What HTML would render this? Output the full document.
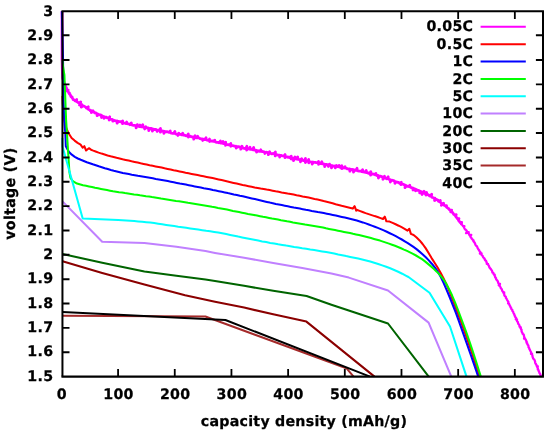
<!DOCTYPE html>
<html lang="en"><head><meta charset="utf-8"><title>Discharge curves</title>
<style>html,body{margin:0;padding:0;background:#fff;overflow:hidden;}svg{display:block;}text{font-family:"DejaVu Sans", "Liberation Sans", sans-serif;font-weight:bold;font-size:14.2px;letter-spacing:0.3px;fill:#000;stroke:#000;stroke-width:0.25px;text-rendering:geometricPrecision;}</style>
</head><body>
<svg width="550" height="433" viewBox="0 0 550 433">
<rect width="550" height="433" fill="#fff"/>
<defs><clipPath id="c"><rect x="60.199999999999996" y="10.8" width="483.6" height="366.5"/></clipPath></defs>
<g fill="none" stroke-linejoin="round" stroke-linecap="butt" clip-path="url(#c)">
<polyline stroke="#ff00ff" stroke-width="2.3" points="460.0,222.4 460.4,222.5 461.6,222.5 461.2,223.6 461.7,224.5 462.4,225.2 463.1,226.0 463.2,226.3 464.4,226.2 464.0,227.4 464.4,228.3 464.9,229.2 465.8,229.8 466.6,230.5 466.7,231.6 467.1,231.7 466.1,233.2 468.8,232.1 468.3,233.3 469.0,234.0 469.4,235.0 469.5,235.2 471.3,234.9 470.3,236.4 470.7,237.3 471.5,238.1 471.9,238.9 472.8,239.6 472.7,240.0 473.6,240.3 473.4,241.2 474.1,242.0 474.7,242.8 475.1,243.7 475.4,244.7 475.9,245.5 476.8,246.2 477.3,247.0 477.6,248.0 478.1,248.9 478.7,249.7 479.3,250.5 479.6,251.5 480.5,252.1 480.4,252.5 479.9,253.7 481.6,253.3 481.4,254.2 481.8,255.2 482.6,255.8 483.0,256.8 483.5,257.6 484.4,258.3 484.7,259.3 485.1,260.2 486.0,260.8 486.4,261.7 486.6,262.8 486.9,262.9 486.8,263.8 488.0,263.8 488.0,264.6 488.6,265.4 489.1,266.3 489.4,267.3 489.9,268.1 490.7,268.9 491.2,269.7 491.9,270.5 492.2,271.4 492.4,272.5 493.4,273.1 493.6,274.1 493.8,274.3 494.7,274.6 494.5,275.6 495.1,276.3 495.2,277.4 496.0,278.1 496.1,279.2 496.8,280.0 497.5,280.8 497.9,281.7 498.2,282.6 498.5,283.6 498.8,283.8 500.0,284.0 498.8,285.3 499.7,285.6 500.1,286.5 500.6,287.3 500.9,288.3 501.7,289.1 502.0,290.0 502.3,291.0 503.0,291.8 503.0,292.1 504.2,292.3 503.6,293.3 504.3,294.1 504.3,295.3 504.9,296.1 505.8,296.7 505.8,297.8 506.5,298.6 506.9,299.5 507.4,300.4 507.9,301.2 508.5,302.1 508.3,302.5 508.1,303.4 509.0,303.8 509.4,304.7 509.7,305.6 510.4,306.4 510.6,307.4 511.3,308.2 511.4,309.2 512.3,309.9 512.4,311.0 513.1,311.7 513.4,312.7 513.8,313.6 514.4,314.5 514.5,315.5 515.1,316.3 515.4,317.3 516.1,318.1 516.1,318.4 515.8,319.3 517.0,319.4 516.9,320.2 517.1,321.3 517.9,322.0 518.0,323.0 518.3,324.0 519.1,324.7 519.5,325.6 519.5,326.7 519.9,326.9 520.8,327.3 520.5,328.2 521.0,329.0 521.6,329.9 521.5,331.0 521.8,331.9 522.4,332.8 522.6,333.8 523.6,334.4 523.9,335.4 524.1,336.4 524.2,337.4 524.6,337.6 524.1,338.6 525.2,338.9 525.8,339.7 526.0,340.7 526.7,341.5 526.5,342.7 527.3,343.4 527.4,344.4 528.2,345.2 528.5,346.1 528.5,347.2 529.2,348.1 529.4,349.1 529.9,349.9 530.3,350.8 530.8,351.7 531.3,352.6 531.2,352.9 531.0,353.8 532.1,354.0 532.0,354.8 532.5,355.7 532.5,356.8 532.9,357.6 533.2,358.6 534.1,359.3 534.6,360.2 535.0,361.1 535.1,362.2 535.3,363.1 535.9,364.0 536.4,364.9 536.7,365.8 536.7,366.1 537.8,366.4 537.3,367.4 537.9,368.3 537.8,369.4 538.5,370.1 538.7,371.1 539.2,372.0 539.4,373.0 540.1,373.8 540.4,374.8 540.8,375.7 541.0,376.6"/>
<polyline stroke="#ff00ff" stroke-width="2.8" points="62.0,11.2 62.0,60.0 62.6,78.0 64.9,85.0 65.5,85.8 65.6,86.9 66.4,87.6 66.5,88.6 67.1,89.5 67.2,89.8 68.2,90.0 67.3,91.2 68.1,91.5 68.6,92.4 68.7,92.7 69.5,93.1 69.4,93.9 70.2,94.6 70.6,95.5 70.9,96.5 71.1,96.7 72.1,96.9 72.0,97.8 72.8,98.5 73.1,99.6 74.1,99.9 75.0,100.4 75.1,100.8 76.7,99.5 76.3,101.5 77.3,101.8 78.0,102.5 79.0,102.8 79.1,103.1 80.7,101.9 79.5,105.0 80.8,104.2 81.8,104.5 81.9,104.9 81.3,107.1 83.1,105.6 84.0,106.1 84.9,106.6 85.7,107.1 86.3,108.1 86.7,108.1 88.3,106.8 87.8,108.9 88.6,109.5 89.6,109.8 90.2,110.7 91.4,110.7 91.5,111.0 91.4,112.7 93.1,110.7 93.3,111.9 94.2,112.3 95.0,113.1 96.1,113.0 96.9,113.7 97.2,113.8 97.1,115.6 98.5,114.3 99.3,114.9 100.4,114.8 101.3,115.2 101.5,115.6 101.5,117.6 102.8,116.1 103.7,116.6 104.0,116.6 104.1,118.4 105.3,117.1 106.4,117.2 107.2,117.8 108.2,118.0 108.4,118.3 109.7,116.8 109.2,120.0 110.3,119.0 111.2,119.4 112.2,119.5 112.5,119.7 112.8,121.2 113.8,120.1 114.7,120.6 115.7,120.8 116.6,121.1 117.0,121.0 117.1,123.2 118.3,121.3 119.3,121.5 120.3,121.7 121.3,121.9 121.5,122.2 122.6,120.9 122.5,123.6 123.5,122.8 124.4,123.1 125.4,123.1 125.7,123.4 126.7,122.1 127.0,123.7 128.0,123.8 129.0,124.0 129.9,124.7 130.2,124.5 131.3,122.9 131.6,124.8 132.5,125.2 133.5,125.3 134.5,125.4 135.5,125.6 135.8,125.8 136.1,127.9 137.3,124.6 137.7,126.2 138.8,126.2 139.0,126.4 140.0,125.1 140.4,126.7 141.4,126.9 141.7,126.9 142.8,124.7 143.1,127.2 144.1,127.2 144.3,127.4 144.7,129.0 145.8,126.7 146.3,127.8 147.3,127.9 148.3,127.9 148.5,128.2 148.8,130.7 149.9,128.5 151.0,128.4 151.9,128.6 152.2,129.0 152.4,131.2 153.5,129.2 154.5,129.5 155.6,129.4 156.4,130.1 156.8,129.9 157.2,131.5 158.2,130.2 159.1,130.4 159.4,130.4 160.5,128.5 160.4,132.1 161.4,130.8 162.4,130.8 163.3,131.4 163.6,131.3 163.9,133.4 165.0,131.5 166.0,131.9 167.0,131.7 168.0,132.0 169.0,132.3 169.2,132.4 170.2,131.0 170.6,132.7 171.5,133.2 172.5,133.3 173.6,133.2 173.8,133.3 174.9,131.4 175.2,133.6 176.1,134.1 177.1,134.3 177.5,134.0 177.9,135.5 178.9,133.3 179.5,134.4 180.5,134.4 181.4,134.7 181.7,134.8 182.7,133.1 183.1,135.0 184.1,134.9 185.0,135.4 186.0,135.8 187.0,135.9 187.3,135.7 188.3,134.0 188.4,137.2 189.3,136.1 190.3,136.2 191.2,136.7 192.2,137.0 193.2,136.8 193.5,136.9 193.8,139.2 195.1,135.8 195.5,137.4 196.4,137.9 196.7,137.6 197.7,136.3 198.1,137.9 199.1,137.9 200.0,138.6 201.0,138.9 202.0,138.9 202.3,138.9 202.7,140.5 203.7,139.2 204.6,139.6 204.9,139.5 206.0,137.8 206.3,139.8 207.2,140.2 208.2,140.4 208.5,140.3 209.5,139.1 209.6,141.5 210.5,140.7 211.4,141.1 212.5,141.0 213.4,141.4 213.7,141.4 214.7,140.2 215.1,141.7 216.0,142.1 217.0,142.4 218.0,142.4 218.9,142.8 219.3,142.7 220.4,141.0 220.7,143.0 221.6,143.1 221.9,143.2 223.0,141.5 223.3,143.5 224.3,143.5 224.6,143.8 225.7,142.1 225.5,145.4 226.5,144.3 227.5,144.5 228.4,144.9 229.5,144.6 229.7,145.0 230.8,143.5 230.8,146.3 231.7,145.4 232.7,145.6 233.6,145.8 234.6,146.2 235.5,146.5 235.9,146.3 236.2,148.1 237.3,146.6 238.3,146.6 239.3,146.8 240.2,147.2 240.5,147.2 240.8,149.2 242.0,146.2 242.5,147.7 243.4,148.1 244.4,148.4 245.3,148.6 245.7,148.3 246.8,146.3 246.7,150.1 247.6,148.7 248.6,148.9 248.9,149.0 250.0,147.1 250.3,149.3 251.3,149.3 252.3,149.4 252.5,149.7 253.7,147.5 253.9,150.0 254.9,150.0 255.9,150.1 256.2,150.4 256.6,152.1 257.6,150.7 258.5,150.9 259.5,151.4 259.8,151.1 260.8,149.8 261.2,151.4 262.2,151.5 263.2,151.6 264.2,151.8 264.4,152.0 264.9,153.5 265.8,152.3 266.8,152.2 267.8,152.6 268.1,152.7 268.4,154.7 269.6,151.7 270.0,153.1 271.0,153.5 271.9,153.9 273.0,153.5 274.0,153.8 274.2,154.0 275.4,151.9 275.2,155.9 276.2,154.4 277.1,154.9 278.1,155.1 279.1,155.2 279.4,155.1 279.7,157.0 280.8,155.4 281.7,155.7 282.7,155.8 283.7,156.0 284.0,156.2 285.1,154.6 285.0,157.7 285.9,156.6 286.9,156.9 287.8,157.3 288.9,157.0 289.8,157.8 290.1,157.6 291.2,156.2 291.2,159.0 292.1,158.0 293.0,158.6 293.3,158.3 293.5,160.7 295.0,157.0 295.3,158.7 296.3,159.0 296.6,159.0 297.7,156.9 297.9,159.3 299.0,159.3 299.8,160.0 300.2,159.8 300.5,161.8 301.7,158.7 302.2,160.2 303.1,160.5 304.1,160.4 304.4,160.6 305.5,158.4 305.4,162.5 306.4,161.0 307.4,161.2 307.7,161.2 308.7,159.5 308.7,162.8 309.6,161.6 310.6,161.9 311.6,162.1 311.9,162.0 312.2,164.0 313.3,162.2 314.3,162.3 315.3,162.4 316.2,162.6 317.2,162.7 317.5,163.0 318.5,161.4 318.6,164.4 319.5,163.3 320.5,163.3 320.7,163.6 321.8,161.7 322.1,163.8 323.2,163.7 324.1,164.3 324.4,164.2 324.7,166.6 325.8,164.5 326.8,164.5 327.8,164.7 328.0,164.9 328.4,166.5 329.5,164.1 330.0,165.2 331.0,165.3 331.3,165.5 331.5,167.9 332.6,165.7 333.6,166.2 334.6,166.0 334.9,166.2 335.3,167.8 336.4,165.4 336.9,166.5 337.9,166.6 338.1,166.8 339.1,165.4 339.5,167.0 340.5,167.5 340.8,167.3 341.8,165.7 341.8,168.7 342.8,167.7 343.8,167.7 344.0,167.9 345.0,166.7 345.4,168.2 346.4,168.1 347.3,168.8 348.3,169.0 349.3,169.0 349.6,169.0 349.9,171.2 351.0,169.3 352.0,169.6 353.0,169.5 353.3,169.8 353.5,172.0 354.6,170.0 355.6,170.3 355.9,170.3 357.0,168.3 357.3,170.6 358.2,170.9 359.2,171.2 360.2,171.1 361.3,171.1 361.5,171.5 362.6,169.7 362.8,171.8 363.8,172.0 364.9,172.0 365.1,172.3 366.2,170.5 366.4,172.6 367.5,172.5 368.3,173.3 369.3,173.5 369.7,173.4 370.8,171.6 370.6,175.1 371.6,173.9 372.6,174.0 373.6,174.1 374.5,174.5 374.8,174.7 375.9,173.4 376.1,175.1 377.0,175.6 378.1,175.4 378.3,175.8 378.4,178.0 379.7,176.2 380.7,176.2 381.7,176.6 382.6,176.9 382.8,177.2 382.9,179.3 384.5,176.3 384.7,177.8 385.7,178.1 386.5,178.8 386.9,178.6 388.2,176.8 388.2,179.0 389.2,179.4 390.1,179.6 390.4,179.8 390.3,182.0 391.7,180.2 392.7,180.4 393.7,180.6 394.5,181.2 394.8,181.3 394.9,183.3 396.1,181.8 397.1,182.1 398.1,182.4 399.0,182.7 399.8,183.5 400.2,183.3 401.3,182.2 401.0,184.7 402.0,184.0 403.0,184.2 404.0,184.6 404.8,185.1 405.1,185.2 405.0,187.6 406.4,185.7 407.3,186.3 408.3,186.4 408.6,186.5 409.8,185.3 409.9,187.0 410.9,187.3 411.7,187.9 412.7,188.0 413.0,188.2 413.0,190.0 414.3,188.7 415.1,189.3 415.5,189.2 415.6,190.8 416.8,189.7 417.6,190.4 418.7,190.4 419.6,190.9 419.8,191.1 419.7,192.9 421.1,191.6 421.9,192.3 422.3,192.2 422.0,194.5 424.1,191.3 424.1,193.0 424.9,193.5 425.3,193.5 426.6,192.4 426.0,195.1 427.1,194.4 428.1,194.7 428.9,195.2 429.6,196.0 430.0,195.9 431.7,194.3 431.3,196.5 432.0,197.3 433.0,197.5 433.8,198.1 434.9,198.2 435.0,198.6 434.6,200.5 436.2,199.4 437.1,199.8 438.0,200.3 438.5,201.3 438.9,201.3 440.3,200.5 440.0,202.1 440.9,202.6 441.5,203.4 441.9,203.5 441.4,205.3 443.6,203.2 443.5,204.7 444.2,205.3 445.2,205.6 445.3,206.0 446.5,205.7 446.4,206.9 447.2,207.6 448.0,208.2 448.8,208.7 449.3,209.6 450.2,210.2 450.4,210.4 451.7,210.1 450.7,211.9 451.8,211.8 452.5,212.5 453.2,213.3 453.6,214.2 454.6,214.7 454.6,215.1 456.2,214.7 455.5,216.2 456.1,217.0 456.8,217.7 457.4,218.5 457.5,218.8 459.0,218.6 458.3,219.9 458.8,220.8 459.5,221.5 460.0,222.4 460.4,222.5 461.6,222.5 461.2,223.6 461.7,224.5"/>
<polyline stroke="#ff0000" stroke-width="2.05" points="62.5,96.0 62.8,104.0 64.0,118.0 65.6,126.5 68.6,133.3 71.6,138.0 74.6,140.6 77.6,142.8 80.6,144.6 82.7,147.7 84.3,146.2 86.1,150.5 88.9,148.2 91.0,149.7 92.6,150.4 95.6,151.5 98.6,152.6 101.6,153.6 104.6,154.5 107.6,155.4 110.6,156.2 113.6,156.9 116.6,157.7 119.6,158.4 122.6,159.2 125.6,159.9 128.6,160.6 131.6,161.3 134.6,161.9 137.6,162.6 140.6,163.3 143.6,163.9 146.6,164.5 149.6,165.2 152.6,165.8 155.6,166.4 158.6,167.0 161.6,167.6 164.6,168.3 167.6,168.9 170.6,169.5 173.6,170.2 176.6,170.8 179.6,171.4 182.6,172.0 185.6,172.7 188.6,173.3 191.6,173.9 194.6,174.5 197.6,175.1 200.6,175.7 203.6,176.3 206.6,176.9 209.6,177.5 212.6,178.1 215.6,178.7 218.6,179.4 221.6,180.1 224.6,180.8 227.6,181.5 230.6,182.2 233.6,182.9 236.6,183.6 239.6,184.3 242.6,185.0 245.6,185.6 248.6,186.2 251.6,186.8 254.6,187.4 257.6,187.9 260.6,188.5 263.6,189.0 266.6,189.6 269.6,190.1 272.6,190.7 275.6,191.3 278.6,191.8 281.6,192.4 284.6,192.9 287.6,193.5 290.6,194.0 293.6,194.6 296.6,195.2 299.6,195.7 302.6,196.4 305.6,197.0 308.6,197.6 311.6,198.3 314.6,199.0 317.6,199.6 320.6,200.3 323.6,201.1 326.6,201.8 329.6,202.5 332.6,203.3 335.6,204.2 338.6,205.0 341.6,205.8 344.6,206.5 347.6,207.2 350.6,208.0 352.8,208.6 354.6,206.2 356.2,210.7 356.6,209.8 359.6,210.9 362.6,212.0 365.6,213.1 368.6,214.1 371.6,215.1 374.6,216.1 377.6,217.0 380.6,218.1 383.0,219.0 384.8,216.7 386.4,221.3 389.6,221.6 392.6,222.9 395.6,224.3 398.6,225.7 401.6,227.2 404.6,228.8 407.5,230.6 409.3,228.8 410.9,233.9 413.6,235.0 416.6,237.5 419.6,240.4 422.6,244.0 425.6,248.1 428.6,253.0 431.6,258.1 434.6,262.8 437.6,267.5 440.6,272.7 443.6,278.4 446.6,284.6 449.6,291.8 452.6,299.6 455.6,307.4 458.6,315.4 461.6,323.5 464.6,331.7 467.6,340.2 470.6,348.9 473.6,357.9 476.6,367.1 479.6,376.6"/>
<polyline stroke="#0000ff" stroke-width="2.05" points="61.8,11.2 63.0,57.0 63.4,100.0 64.6,125.0 65.4,134.0 65.8,146.3 68.8,151.8 71.8,154.7 74.8,156.8 77.8,158.5 80.8,159.8 83.8,161.0 86.8,162.2 89.8,163.2 92.8,164.3 95.8,165.3 98.8,166.3 101.8,167.2 104.8,168.2 107.8,169.1 110.8,170.0 113.8,170.8 116.8,171.5 119.8,172.2 122.8,172.9 125.8,173.5 128.8,174.1 131.8,174.7 134.8,175.2 137.8,175.8 140.8,176.3 143.8,176.8 146.8,177.3 149.8,177.8 152.8,178.3 155.8,178.9 158.8,179.4 161.8,179.9 164.8,180.5 167.8,181.1 170.8,181.7 173.8,182.3 176.8,182.9 179.8,183.5 182.8,184.0 185.8,184.6 188.8,185.2 191.8,185.8 194.8,186.4 197.8,187.0 200.8,187.6 203.8,188.2 206.8,188.7 209.8,189.3 212.8,190.0 215.8,190.6 218.8,191.2 221.8,191.8 224.8,192.4 227.8,193.1 230.8,193.7 233.8,194.4 236.8,195.0 239.8,195.7 242.8,196.3 245.8,197.0 248.8,197.7 251.8,198.4 254.8,199.1 257.8,199.8 260.8,200.5 263.8,201.2 266.8,201.9 269.8,202.6 272.8,203.2 275.8,203.9 278.8,204.5 281.8,205.1 284.8,205.7 287.8,206.3 290.8,206.9 293.8,207.5 296.8,208.0 299.8,208.6 302.8,209.2 305.8,209.8 308.8,210.3 311.8,210.9 314.8,211.4 317.8,212.0 320.8,212.5 323.8,213.1 326.8,213.7 329.8,214.3 332.8,214.9 335.8,215.5 338.8,216.2 341.8,216.9 344.8,217.6 347.8,218.3 350.8,219.0 353.8,219.8 356.8,220.6 359.8,221.5 362.8,222.4 365.8,223.4 368.8,224.5 371.8,225.6 374.8,226.7 377.8,227.9 380.8,229.1 383.8,230.4 386.8,231.8 389.8,233.2 392.8,234.6 395.8,236.2 398.8,237.8 401.8,239.5 404.8,241.3 407.8,243.1 410.8,245.1 413.8,247.2 416.8,249.4 419.8,251.9 422.8,254.5 425.8,257.3 428.8,260.4 431.8,263.7 434.8,267.4 437.8,271.7 440.8,277.1 443.8,283.4 446.8,290.4 449.8,297.5 452.8,305.0 455.8,312.7 458.8,320.8 461.8,329.3 464.8,337.9 467.8,346.4 470.8,355.0 473.8,363.7 476.8,372.5 478.2,376.6"/>
<polyline stroke="#00ff00" stroke-width="2.05" points="62.5,60.0 62.8,65.0 64.4,75.0 66.1,120.0 69.4,172.0 70.5,178.0 72.8,181.2 77.0,183.6 83.0,185.3 86.0,185.8 89.0,186.4 92.0,187.0 95.0,187.7 98.0,188.3 101.0,188.9 104.0,189.5 107.0,190.1 110.0,190.7 113.0,191.3 116.0,191.7 119.0,192.2 122.0,192.6 125.0,193.1 128.0,193.5 131.0,193.9 134.0,194.4 137.0,194.8 140.0,195.3 143.0,195.7 146.0,196.2 149.0,196.6 152.0,197.1 155.0,197.5 158.0,198.0 161.0,198.5 164.0,198.9 167.0,199.4 170.0,199.9 173.0,200.4 176.0,200.9 179.0,201.3 182.0,201.8 185.0,202.3 188.0,202.8 191.0,203.2 194.0,203.7 197.0,204.2 200.0,204.7 203.0,205.2 206.0,205.7 209.0,206.2 212.0,206.8 215.0,207.3 218.0,207.9 221.0,208.4 224.0,209.0 227.0,209.6 230.0,210.2 233.0,210.9 236.0,211.5 239.0,212.1 242.0,212.7 245.0,213.3 248.0,213.9 251.0,214.4 254.0,215.0 257.0,215.6 260.0,216.2 263.0,216.8 266.0,217.3 269.0,217.9 272.0,218.5 275.0,219.0 278.0,219.6 281.0,220.2 284.0,220.7 287.0,221.3 290.0,221.8 293.0,222.4 296.0,222.9 299.0,223.4 302.0,223.9 305.0,224.5 308.0,224.9 311.0,225.4 314.0,225.9 317.0,226.4 320.0,227.0 323.0,227.6 326.0,228.3 329.0,228.9 332.0,229.5 335.0,230.1 338.0,230.7 341.0,231.3 344.0,231.9 347.0,232.5 350.0,233.1 353.0,233.8 356.0,234.4 359.0,235.1 362.0,235.8 365.0,236.5 368.0,237.3 371.0,238.1 374.0,238.9 377.0,239.7 380.0,240.6 383.0,241.6 386.0,242.6 389.0,243.6 392.0,244.7 395.0,245.8 398.0,247.0 401.0,248.2 404.0,249.6 407.0,250.9 410.0,252.4 413.0,253.9 416.0,255.5 419.0,257.3 422.0,259.2 425.0,261.4 428.0,263.9 431.0,266.4 434.0,269.0 437.0,271.9 440.0,275.1 443.0,278.8 446.0,283.3 449.0,288.9 452.0,295.3 455.0,302.3 458.0,310.0 461.0,318.0 464.0,326.1 467.0,334.4 470.0,343.1 473.0,352.1 476.0,361.3 479.0,370.8 480.8,376.6"/>
<polyline stroke="#00ffff" stroke-width="2.05" points="62.4,138.0 62.5,146.5 82.7,218.5 118.2,220.0 122.2,220.2 126.2,220.5 130.2,220.8 134.2,221.1 138.2,221.4 142.2,221.8 146.2,222.2 150.2,222.6 154.2,223.1 158.2,223.7 162.2,224.3 166.2,224.9 170.2,225.5 174.2,226.1 178.2,226.7 182.2,227.2 186.2,227.8 190.2,228.4 194.2,229.0 198.2,229.6 202.2,230.2 206.2,230.8 210.2,231.3 214.2,231.9 218.2,232.5 222.2,233.3 226.2,234.1 230.2,234.9 234.2,235.7 238.2,236.6 242.2,237.4 246.2,238.2 250.2,239.0 254.2,239.8 258.2,240.6 262.2,241.4 266.2,242.1 270.2,242.9 274.2,243.6 278.2,244.3 282.2,244.9 286.2,245.6 290.2,246.2 294.2,246.9 298.2,247.5 302.2,248.2 306.2,248.8 310.2,249.5 314.2,250.1 318.2,250.7 322.2,251.4 326.2,252.1 330.2,252.8 334.2,253.5 338.2,254.4 342.2,255.2 346.2,256.1 350.2,256.9 354.2,257.7 358.2,258.6 362.2,259.5 366.2,260.5 370.2,261.6 374.2,262.8 378.2,264.0 382.2,265.4 386.2,266.8 390.2,268.3 394.2,270.0 398.2,271.8 402.2,273.7 406.2,275.8 408.5,277.0 429.5,292.8 450.0,326.5 466.5,376.6"/>
<polyline stroke="#c080ff" stroke-width="2.05" points="62.5,201.4 102.2,241.8 144.4,242.9 176.4,246.7 205.5,251.1 215.0,252.9 244.1,257.8 273.2,262.9 302.3,268.1 331.4,273.6 348.8,277.6 388.0,290.5 428.6,322.6 451.3,376.6"/>
<polyline stroke="#006400" stroke-width="2.05" points="62.5,254.0 102.2,262.7 144.4,271.5 176.4,275.8 205.5,279.6 215.0,280.9 244.1,285.8 273.2,290.8 306.6,296.0 331.4,304.7 388.0,323.5 428.7,376.6"/>
<polyline stroke="#8b0000" stroke-width="2.05" points="62.5,261.3 102.2,272.9 144.4,284.5 185.1,295.3 215.0,301.8 244.1,307.6 273.2,314.3 306.4,321.6 374.5,376.6"/>
<polyline stroke="#a52a2a" stroke-width="2.05" points="62.5,315.8 205.4,316.5 346.4,368.2 353.6,376.6"/>
<polyline stroke="#000000" stroke-width="2.05" points="62.5,312.0 225.4,320.0 370.0,376.6"/>
</g>
<g stroke="#000" fill="none" stroke-linecap="butt">
<path stroke-width="2.05" d="M61.449999999999996,11.3H543.95M61.449999999999996,376.6H543.95"/>
<path stroke-width="2.0" d="M62.449999999999996,11.3V376.6M543.0,11.3V376.6"/>
<path stroke-width="1.95" d="M62.4,35.15h7.1M543.0,35.15h-7.1M62.4,60.01h7.1M543.0,60.01h-7.1M62.4,84.36h7.1M543.0,84.36h-7.1M62.4,108.71h7.1M543.0,108.71h-7.1M62.4,133.07h7.1M543.0,133.07h-7.1M62.4,157.42h7.1M543.0,157.42h-7.1M62.4,181.77h7.1M543.0,181.77h-7.1M62.4,206.13h7.1M543.0,206.13h-7.1M62.4,230.48h7.1M543.0,230.48h-7.1M62.4,254.83h7.1M543.0,254.83h-7.1M62.4,279.19h7.1M543.0,279.19h-7.1M62.4,303.54h7.1M543.0,303.54h-7.1M62.4,327.89h7.1M543.0,327.89h-7.1M62.4,352.25h7.1M543.0,352.25h-7.1"/>
<path stroke-width="1.8" d="M118.08,376.6v-7.7M118.08,11.3v7.7M174.76,376.6v-7.7M174.76,11.3v7.7M231.44,376.6v-7.7M231.44,11.3v7.7M288.12,376.6v-7.7M288.12,11.3v7.7M344.80,376.6v-7.7M344.80,11.3v7.7M401.48,376.6v-7.7M401.48,11.3v7.7M458.16,376.6v-7.7M458.16,11.3v7.7M514.84,376.6v-7.7M514.84,11.3v7.7"/>
</g>
<g text-anchor="end">
<text transform="translate(53.4,15.9) scale(1,1.015)">3</text>
<text transform="translate(53.4,39.8) scale(1,1.015)">2.9</text>
<text transform="translate(53.4,64.1) scale(1,1.015)">2.8</text>
<text transform="translate(53.4,88.5) scale(1,1.015)">2.7</text>
<text transform="translate(53.4,112.8) scale(1,1.015)">2.6</text>
<text transform="translate(53.4,137.2) scale(1,1.015)">2.5</text>
<text transform="translate(53.4,161.5) scale(1,1.015)">2.4</text>
<text transform="translate(53.4,185.9) scale(1,1.015)">2.3</text>
<text transform="translate(53.4,210.2) scale(1,1.015)">2.2</text>
<text transform="translate(53.4,234.6) scale(1,1.015)">2.1</text>
<text transform="translate(53.4,258.9) scale(1,1.015)">2</text>
<text transform="translate(53.4,283.3) scale(1,1.015)">1.9</text>
<text transform="translate(53.4,307.6) scale(1,1.015)">1.8</text>
<text transform="translate(53.4,332.0) scale(1,1.015)">1.7</text>
<text transform="translate(53.4,356.3) scale(1,1.015)">1.6</text>
<text transform="translate(53.4,380.7) scale(1,1.015)">1.5</text>
</g>
<g text-anchor="middle">
<text transform="translate(61.8,398.8) scale(1,1.015)">0</text>
<text transform="translate(118.5,398.8) scale(1,1.015)">100</text>
<text transform="translate(175.2,398.8) scale(1,1.015)">200</text>
<text transform="translate(231.8,398.8) scale(1,1.015)">300</text>
<text transform="translate(288.5,398.8) scale(1,1.015)">400</text>
<text transform="translate(345.2,398.8) scale(1,1.015)">500</text>
<text transform="translate(401.9,398.8) scale(1,1.015)">600</text>
<text transform="translate(458.6,398.8) scale(1,1.015)">700</text>
<text transform="translate(515.2,398.8) scale(1,1.015)">800</text>
</g>
<text transform="translate(304.0,425.8) scale(1,1.015)" text-anchor="middle" style="letter-spacing:0.25px">capacity density (mAh/g)</text>
<text transform="translate(15.0,193.6) rotate(-90) scale(1,1.05)" text-anchor="middle" stroke-width="0.4">voltage (V)</text>
<text transform="translate(473.3,31.4) scale(1,1.03)" text-anchor="end">0.05C</text>
<path d="M480.6,26.8H525.8" stroke="#ff00ff" stroke-width="2.0" fill="none"/>
<text transform="translate(473.3,48.8) scale(1,1.03)" text-anchor="end">0.5C</text>
<path d="M480.6,44.2H525.8" stroke="#ff0000" stroke-width="2.0" fill="none"/>
<text transform="translate(473.3,66.1) scale(1,1.03)" text-anchor="end">1C</text>
<path d="M480.6,61.5H525.8" stroke="#0000ff" stroke-width="2.0" fill="none"/>
<text transform="translate(473.3,83.5) scale(1,1.03)" text-anchor="end">2C</text>
<path d="M480.6,78.9H525.8" stroke="#00ff00" stroke-width="2.0" fill="none"/>
<text transform="translate(473.3,100.8) scale(1,1.03)" text-anchor="end">5C</text>
<path d="M480.6,96.2H525.8" stroke="#00ffff" stroke-width="2.0" fill="none"/>
<text transform="translate(473.3,118.1) scale(1,1.03)" text-anchor="end">10C</text>
<path d="M480.6,113.5H525.8" stroke="#c080ff" stroke-width="2.0" fill="none"/>
<text transform="translate(473.3,135.5) scale(1,1.03)" text-anchor="end">20C</text>
<path d="M480.6,130.9H525.8" stroke="#006400" stroke-width="2.0" fill="none"/>
<text transform="translate(473.3,152.9) scale(1,1.03)" text-anchor="end">30C</text>
<path d="M480.6,148.3H525.8" stroke="#8b0000" stroke-width="2.0" fill="none"/>
<text transform="translate(473.3,170.2) scale(1,1.03)" text-anchor="end">35C</text>
<path d="M480.6,165.6H525.8" stroke="#a52a2a" stroke-width="2.0" fill="none"/>
<text transform="translate(473.3,187.6) scale(1,1.03)" text-anchor="end">40C</text>
<path d="M480.6,183.0H525.8" stroke="#000000" stroke-width="2.0" fill="none"/>
</svg></body></html>
